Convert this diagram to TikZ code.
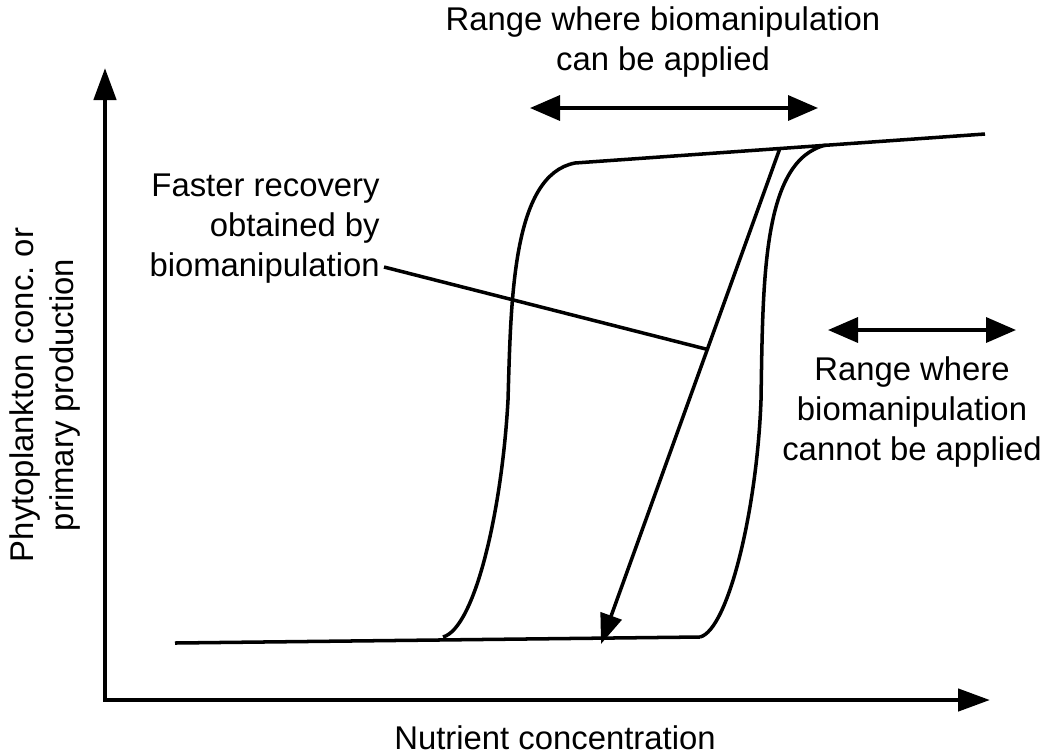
\documentclass[tikz,border=0pt]{standalone}
\usepackage{fontspec}
\setmainfont{Liberation Sans}
\usepackage{tikz}
\usetikzlibrary{arrows.meta,calc}

\begin{document}
\begin{tikzpicture}[x=0.02cm, y=-0.02cm,
    every node/.style={font=\fontsize{18.7}{22.8}\selectfont, align=center, inner sep=0pt},
    axis/.style={line width=2.6pt, {Triangle[length=0.64cm, width=0.44cm]}-{Triangle[length=0.64cm, width=0.44cm]}},
    curve/.style={line width=2pt, line join=round},
    rangearrow/.style={line width=2pt, {Triangle[length=0.6cm, width=0.5cm]}-{Triangle[length=0.6cm, width=0.5cm]}}]
            \useasboundingbox (0,0) rectangle (1064,755);

            \coordinate (O)    at (105,700);
            \coordinate (Ytop) at (105,68);
            \coordinate (Xend) at (990,700);
            \draw[axis] (Ytop) -- (O) -- (Xend);

            \draw[curve] (175,643) -- (700,637);
            \draw[curve] (443,637) .. controls (475,628) and (502,510) .. (508,400)
                         .. controls (511,300) and (512,175) .. (575,163) -- (985,134);
            \draw[curve] (700,637) .. controls (728,630) and (757,510) .. (761,400)
                         .. controls (763,280) and (762,160) .. (826,145);

            \coordinate (Atop) at (780,148);
            \coordinate (Abot) at (601,644);
            \draw[curve, -{Triangle[length=0.6cm, width=0.44cm]}] (Atop) -- (Abot);

            \coordinate (Can1) at (530,108);
            \coordinate (Can2) at (818,108);
            \draw[rangearrow] (Can1) -- (Can2);

            \coordinate (Cannot1) at (828,330);
            \coordinate (Cannot2) at (1016,330);
            \draw[rangearrow] (Cannot1) -- (Cannot2);

            \node (can)    at (663,42)  {Range where biomanipulation\\can be applied};
            \node[align=right, anchor=east] (faster) at (380,229) {Faster recovery\\obtained by\\biomanipulation};
            \node (cannot) at (912,412) {Range where\\biomanipulation\\cannot be applied};
            \node (xlabel) at (555,738) {Nutrient concentration};
            \node[rotate=90] (ylabel) at (45,395) {Phytoplankton conc.\ or\\primary production};

            \coordinate (Ptext) at (384,267);
            \coordinate (Parrow) at ($(Atop)!0.406!(Abot)$);
            \draw[curve] (Ptext) -- (Parrow);
        \end{tikzpicture}
\end{document}
